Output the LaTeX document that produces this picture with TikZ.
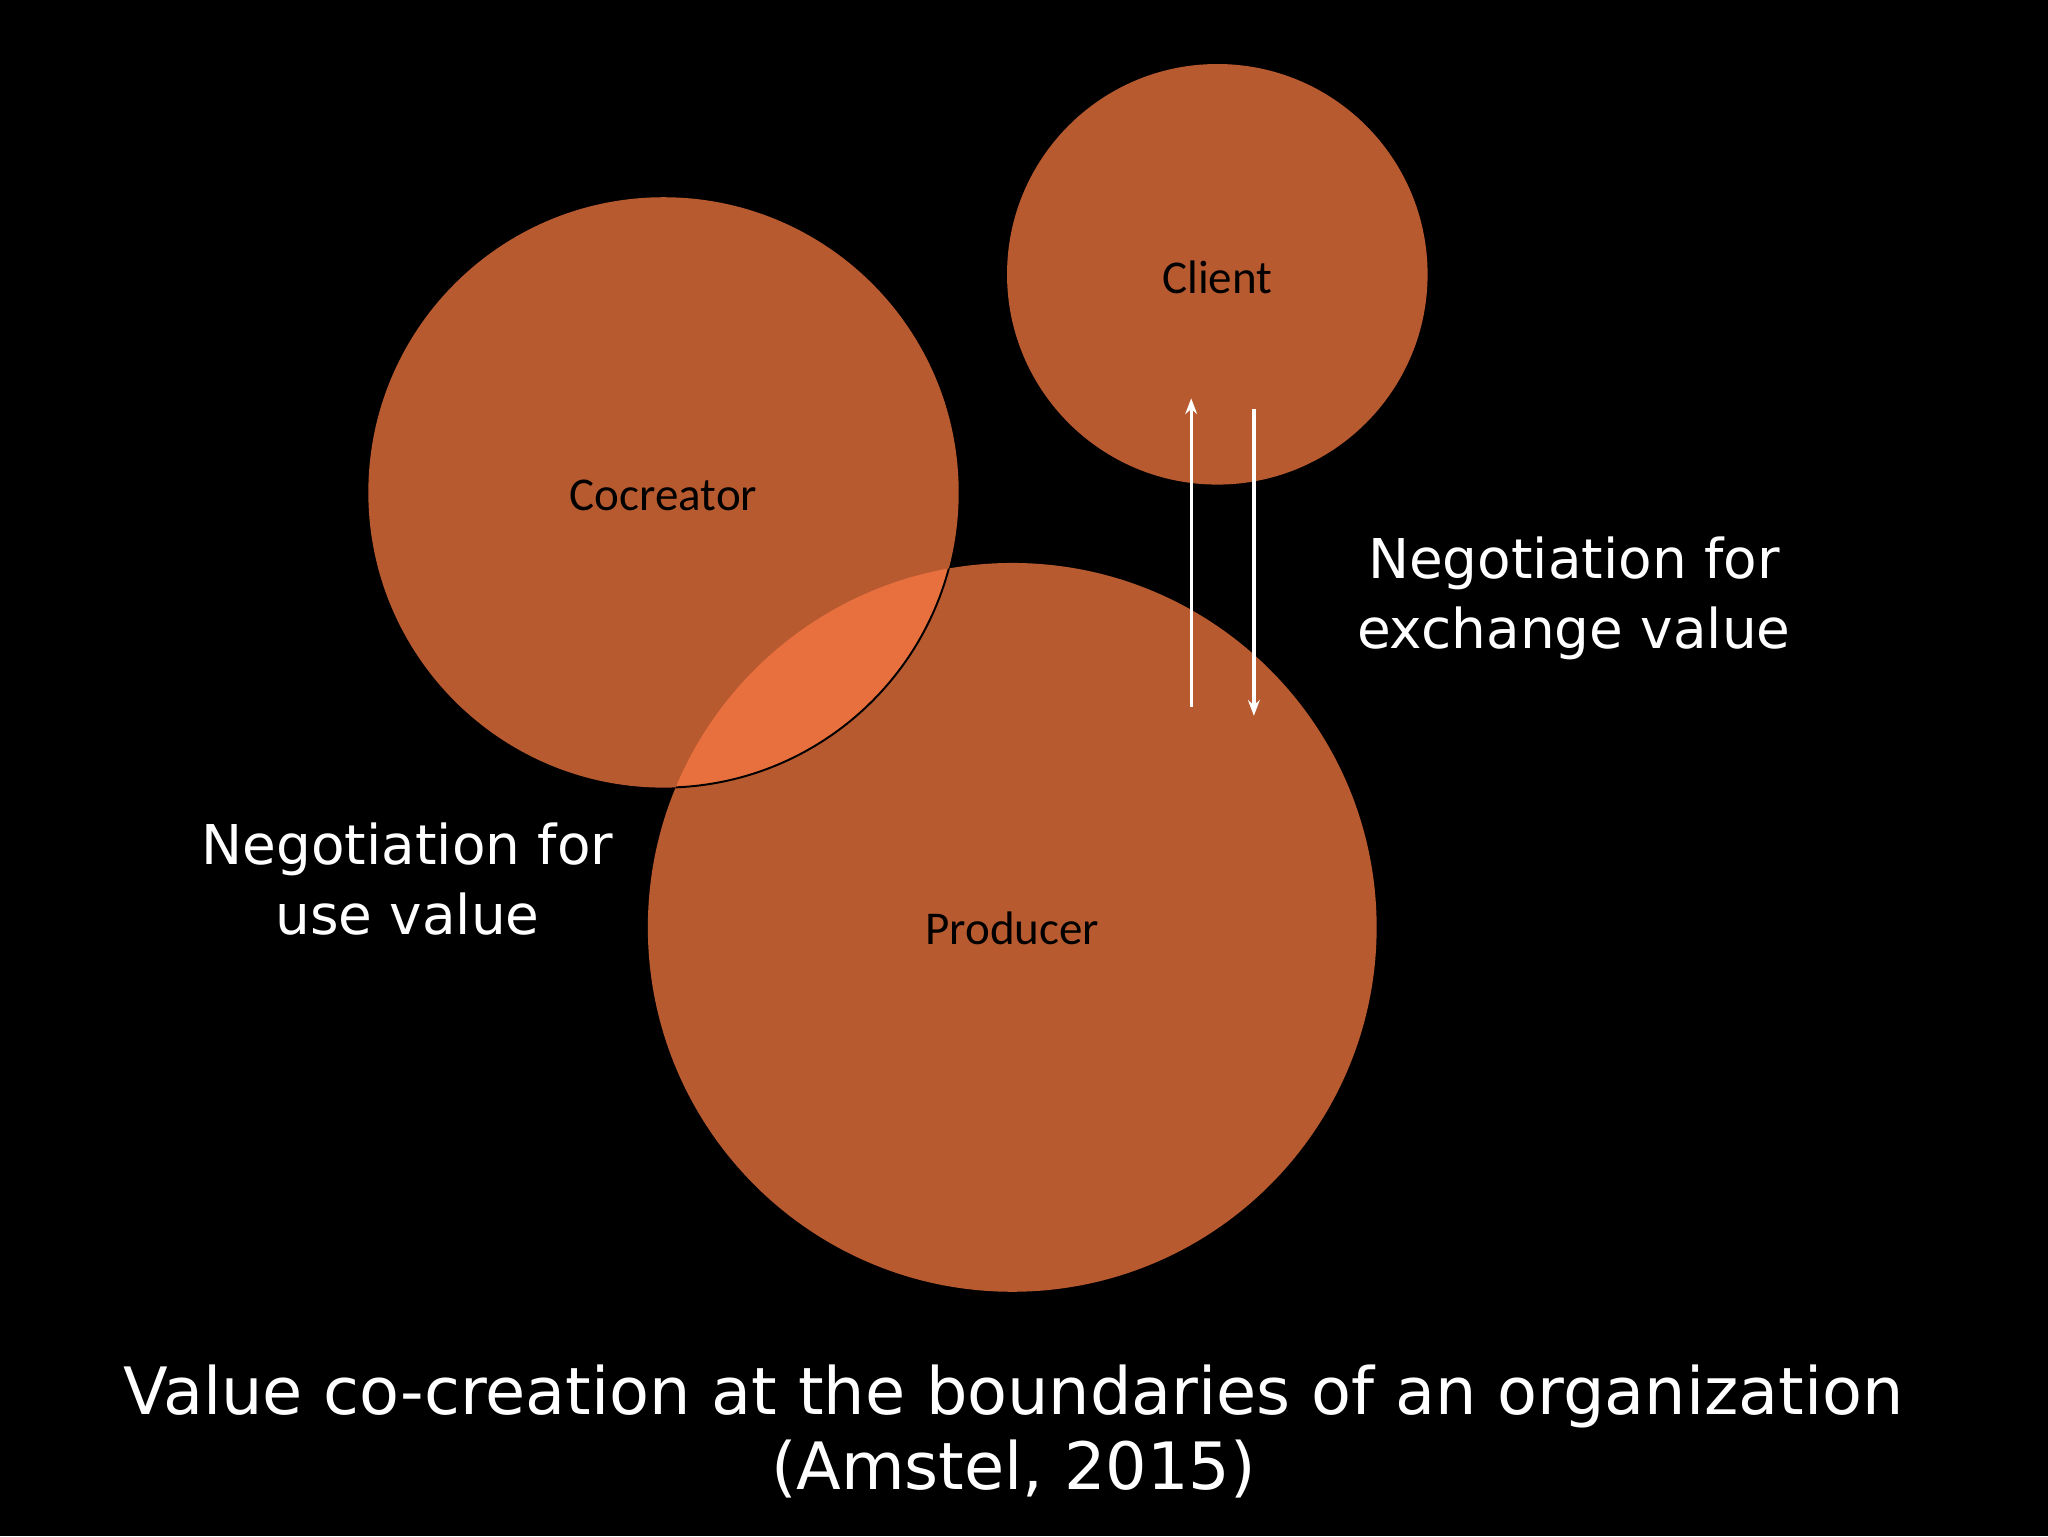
\documentclass[tikz,border=0pt]{standalone}
\usepackage{fontspec}
\usetikzlibrary{arrows.meta}
\setmainfont{DejaVu Sans}
\newfontfamily\lab{Carlito}
\definecolor{rust}{HTML}{B85A30}
\definecolor{lightrust}{HTML}{E8703F}
\begin{document}
\begin{tikzpicture}[x=1pt,y=-1pt,
  lbl/.style={font=\lab\fontsize{36}{40}\selectfont,text=black},
  wtxt/.style={font=\fontsize{42}{54}\selectfont,text=white,align=center},
  arr/.style={white,line width=2.5pt,-{Stealth[length=12pt,width=9pt]}}]
\fill[black] (0,0) rectangle (1568,1176);
\useasboundingbox (0,0) rectangle (1568,1176);
\fill[rust] (508,377) circle (226);
\fill[rust] (932,210) circle (161);
\fill[rust] (775,710) circle (279);
\begin{scope}
\clip (508,377) circle (226);
\fill[lightrust] (775,710) circle (279);
\end{scope}
\begin{scope}
\clip (775,710) circle (279);
\draw[black,line width=1.5pt] (508,377) circle (226);
\end{scope}
\node[lbl] (co) at (508,379) {Cocreator};
\node[lbl] (cl) at (932,212) {Client};
\node[lbl] (pr) at (775,711) {Producer};
\coordinate (u1) at (912,541);
\coordinate (u2) at (912,305);
\coordinate (d1) at (960,313);
\coordinate (d2) at (960,548);
\draw[arr] (u1) -- (u2);
\draw[arr] (d1) -- (d2);
\node[wtxt] (ex) at (1205,458) {Negotiation for\\exchange value};
\node[wtxt] (us) at (312,673) {Negotiation for\\use value};
\node[wtxt,font=\fontsize{50}{58}\selectfont] (ti) at (776,1096) {Value co-creation at the boundaries of an organization\\(Amstel, 2015)};
\end{tikzpicture}
\end{document}
